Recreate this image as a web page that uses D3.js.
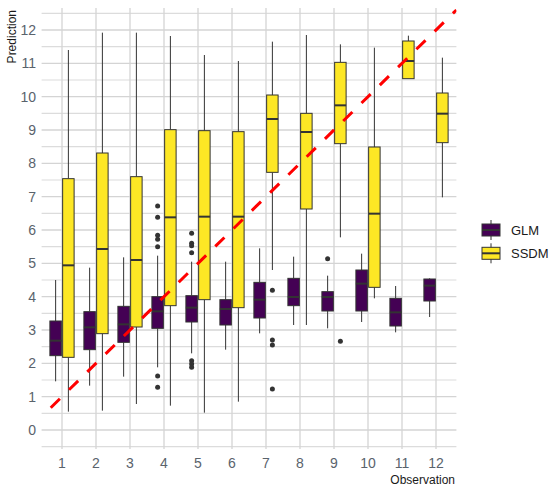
<!DOCTYPE html>
<html lang="en">
<head>
    <meta charset="UTF-8">
    <title>GLM vs SSDM boxplots</title>
    <script src="https://d3js.org/d3.v7.min.js"></script>
    <style>
        body{
            margin: 0;
            background-color: white;
        }
        text{
            font-family: "Liberation Sans", Arial, sans-serif;
        }
        .tick_lbl{
            font-size: 14px;
            fill: #5a636c;
        }
        .axis_title{
            font-size: 12px;
            fill: #1a1a1a;
        }
        .legend_lbl{
            font-size: 13px;
            fill: #1a1a1a;
        }
    </style>
</head>
<body>
<svg id="canvas" width="550" height="491"></svg>
<script>
    // observations on the x axis
    let observations = [1, 2, 3, 4, 5, 6, 7, 8, 9, 10, 11, 12];
    let models = ["GLM", "SSDM"];
    let modelColors = ["#440154", "#FDE725"];
    let yTicks = [0, 1, 2, 3, 4, 5, 6, 7, 8, 9, 10, 11, 12];

    // GLM box stats (lower whisker, q1, median, q3, upper whisker)
    let glmLow = [1.46, 1.33, 1.60, 1.88, 2.30, 2.41, 2.90, 3.15, 3.05, 3.24, 2.93, 3.39];
    let glmQ1 = [2.23, 2.41, 2.63, 3.05, 3.24, 3.15, 3.36, 3.73, 3.57, 3.57, 3.12, 3.87];
    let glmMed = [2.68, 3.08, 3.17, 3.56, 3.67, 3.63, 3.91, 3.99, 3.99, 4.39, 3.53, 4.33];
    let glmQ3 = [3.27, 3.55, 3.71, 4.00, 4.03, 3.91, 4.43, 4.55, 4.15, 4.80, 3.95, 4.53];
    let glmHigh = [4.50, 4.87, 5.18, 5.23, 5.05, 5.05, 5.45, 5.20, 4.63, 5.29, 4.32, 4.55];
    let glmOut = [[], [], [], [6.72, 6.38, 5.84, 5.72, 5.50, 1.62, 1.28],
        [5.90, 5.60, 5.53, 5.32, 2.08, 1.98, 1.88], [], [], [], [5.14], [], [], []];

    // SSDM box stats
    let ssdmLow = [0.55, 0.58, 0.78, 0.73, 0.52, 0.85, 4.80, 3.15, 5.78, 3.95, 10.54, 6.98];
    let ssdmQ1 = [2.18, 2.89, 3.09, 3.73, 3.91, 3.67, 7.73, 6.63, 8.59, 4.28, 10.54, 8.62];
    let ssdmMed = [4.94, 5.43, 5.10, 6.38, 6.40, 6.40, 9.33, 8.94, 9.74, 6.49, 11.07, 9.49];
    let ssdmQ3 = [7.54, 8.31, 7.60, 9.01, 8.98, 8.95, 10.05, 9.50, 11.03, 8.49, 11.67, 10.11];
    let ssdmHigh = [11.40, 11.92, 11.92, 11.82, 11.25, 11.07, 11.65, 11.85, 11.57, 11.47, 11.83, 11.17];
    let ssdmOut = [[], [], [], [], [], [], [4.19, 2.70, 2.55, 1.23], [], [2.66], [], [], []];

    // 1:1 reference line
    let refLine = [0.4, 12.6];

    let svg = d3.select('svg');
    let x = d3.scaleLinear().domain([0.4, 12.6]).range([41.6, 456.4]);
    let y = d3.scaleLinear().domain([-0.57, 12.66]).range([449, 8]);
    let dodge = 0.1875, boxW = x(0.3375) - x(0);

    // build one record per box
    let boxes = [];
    observations.forEach(function (o, i) {
        boxes.push({obs: o, m: 0, low: glmLow[i], q1: glmQ1[i], med: glmMed[i], q3: glmQ3[i], high: glmHigh[i], out: glmOut[i]});
        boxes.push({obs: o, m: 1, low: ssdmLow[i], q1: ssdmQ1[i], med: ssdmMed[i], q3: ssdmQ3[i], high: ssdmHigh[i], out: ssdmOut[i]});
    });
    let cx = function (d) { return x(d.obs + (d.m === 0 ? -dodge : dodge)); };

    // grid
    let grid = svg.append('g');
    let minor = d3.range(-0.5, 12.6, 1);
    grid.selectAll('line.minor').data(minor).enter().append('line')
        .attr('x1', x.range()[0]).attr('x2', x.range()[1])
        .attr('y1', d => y(d)).attr('y2', d => y(d))
        .attr('stroke', '#dcdcdc').attr('stroke-width', 1.1);
    grid.selectAll('line.major').data(yTicks).enter().append('line')
        .attr('x1', x.range()[0]).attr('x2', x.range()[1])
        .attr('y1', d => y(d)).attr('y2', d => y(d))
        .attr('stroke', '#d4d4d4').attr('stroke-width', 1.3);
    grid.selectAll('line.vert').data(observations).enter().append('line')
        .attr('x1', d => x(d)).attr('x2', d => x(d))
        .attr('y1', y.range()[0]).attr('y2', y.range()[1])
        .attr('stroke', '#d4d4d4').attr('stroke-width', 1.3);

    // boxplots
    let bp = svg.append('g').selectAll('g').data(boxes).enter().append('g');
    bp.append('line')
        .attr('x1', cx).attr('x2', cx)
        .attr('y1', d => y(d.high)).attr('y2', d => y(d.q3))
        .attr('stroke', '#333').attr('stroke-width', 1);
    bp.append('line')
        .attr('x1', cx).attr('x2', cx)
        .attr('y1', d => y(d.q1)).attr('y2', d => y(d.low))
        .attr('stroke', '#333').attr('stroke-width', 1);
    bp.append('rect')
        .attr('x', d => cx(d) - boxW / 2).attr('width', boxW)
        .attr('y', d => y(d.q3)).attr('height', d => y(d.q1) - y(d.q3))
        .attr('fill', d => modelColors[d.m])
        .attr('stroke', '#333').attr('stroke-width', 1);
    bp.append('line')
        .attr('x1', d => cx(d) - boxW / 2).attr('x2', d => cx(d) + boxW / 2)
        .attr('y1', d => y(d.med)).attr('y2', d => y(d.med))
        .attr('stroke', '#333').attr('stroke-width', 2);
    bp.each(function (d) {
        d3.select(this).selectAll('circle').data(d.out).enter().append('circle')
            .attr('cx', cx(d)).attr('cy', v => y(v)).attr('r', 2.5)
            .attr('fill', '#333');
    });

    // dashed 1:1 line, clipped to the panel
    svg.append('clipPath').attr('id', 'panel').append('rect')
        .attr('x', x.range()[0]).attr('y', y.range()[1])
        .attr('width', x.range()[1] - x.range()[0]).attr('height', y.range()[0] - y.range()[1]);
    svg.append('line')
        .attr('clip-path', 'url(#panel)')
        .attr('x1', x(refLine[0])).attr('y1', y(refLine[0]))
        .attr('x2', x(refLine[1])).attr('y2', y(refLine[1]))
        .attr('stroke', '#ff0000').attr('stroke-width', 3)
        .attr('stroke-dasharray', '12.8,12.8').attr('stroke-dashoffset', 12.8);

    // tick labels
    svg.selectAll('text.ytick').data(yTicks).enter().append('text')
        .attr('class', 'tick_lbl')
        .attr('x', 36).attr('y', d => y(d)).attr('dy', '0.35em')
        .attr('text-anchor', 'end').text(d => d);
    svg.selectAll('text.xtick').data(observations).enter().append('text')
        .attr('class', 'tick_lbl')
        .attr('x', d => x(d)).attr('y', 468)
        .attr('text-anchor', 'middle').text(d => d);

    // axis titles
    svg.append('text').attr('class', 'axis_title')
        .attr('transform', 'translate(16,10) rotate(-90)')
        .attr('text-anchor', 'end').text('Prediction');
    svg.append('text').attr('class', 'axis_title')
        .attr('x', 455).attr('y', 484)
        .attr('text-anchor', 'end').text('Observation');

    // legend
    let legend = svg.append('g').selectAll('g').data(models).enter().append('g')
        .attr('transform', (d, i) => 'translate(491,' + (230 + i * 23.3) + ')');
    legend.append('line').attr('y1', -10).attr('y2', 10)
        .attr('stroke', '#333').attr('stroke-width', 1);
    legend.append('rect').attr('x', -9).attr('y', -6).attr('width', 18).attr('height', 12)
        .attr('fill', (d, i) => modelColors[i]).attr('stroke', '#333').attr('stroke-width', 1);
    legend.append('line').attr('x1', -9).attr('x2', 9)
        .attr('stroke', '#333').attr('stroke-width', 2);
    legend.append('text').attr('class', 'legend_lbl')
        .attr('x', 20).attr('dy', '0.35em').text(d => d);
</script>
</body>
</html>
